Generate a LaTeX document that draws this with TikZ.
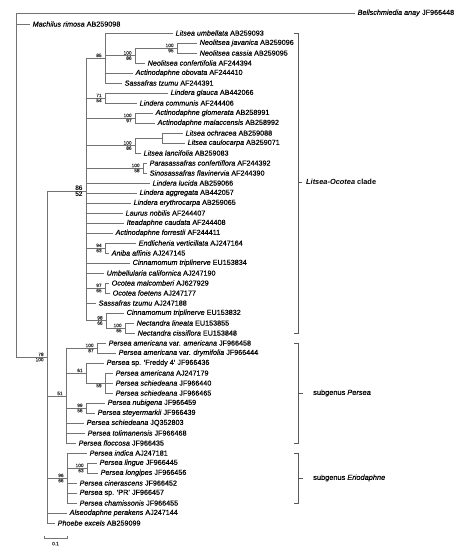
\documentclass[tikz,border=0pt]{standalone}
\usepackage{fontspec}
\setmainfont{Liberation Sans}[UprightFeatures={FakeBold=0.35}, ItalicFeatures={FakeBold=0.35}]
\usetikzlibrary{calc}
\newcommand{\tipnode}[5]{\node[tip] (#1) at (#2,#3) {#4}; \draw[br] (#5) |- (#1.west);}
\newcommand{\bsv}[3]{\node[bsl, anchor=south east] at ([xshift=-2.5pt]#1) {#2}; \node[bsl, anchor=north east] at ([xshift=-2.5pt]#1) {#3};}
\newcommand{\bst}[2]{\node[bsl, anchor=south east] at ([xshift=-2.5pt]#1) {#2};}
\newcommand{\bsd}[2]{\node[bsl, anchor=north east] at ([xshift=-2.5pt]#1) {#2};}
\begin{document}
\begin{tikzpicture}[x=1pt,y=-1pt,
  br/.style={draw=black!55, line width=0.6pt},
  bk/.style={draw=black!65, line width=0.6pt},
  tip/.style={anchor=west, inner xsep=2.5pt, inner ysep=0pt, font=\fontsize{7.2}{8}\selectfont},
  bsl/.style={font=\fontsize{4.8}{6}\selectfont, inner sep=0.7pt, text=black!80},
  bsb/.style={font=\bfseries\fontsize{6.6}{7}\selectfont, inner sep=0.7pt},
  clab/.style={anchor=west, inner sep=0pt, font=\fontsize{7.4}{9}\selectfont}]
\useasboundingbox (0,0) rectangle (474,557);
% root
\coordinate (root) at (16,190);
\coordinate (n78) at (47,357);
\tipnode{bel}{355}{13}{\textit{Bellschmiedia anay} JF966448}{root}
\tipnode{mac}{30}{24}{\textit{Machilus rimosa} AB259098}{root}
\draw[br] (root) |- (n78);
% Litsea-Ocotea clade
\coordinate (nLO) at (86,191);
\draw[br] (n78) |- (nLO);
\coordinate (nLit) at (105,58);
\draw[br] (nLO) |- (nLit);
\tipnode{lum}{173}{33}{\textit{Litsea umbellata} AB259093}{nLit}
\coordinate (nNeo) at (135,55.5);
\draw[br] (nLit) |- (nNeo);
\coordinate (nNJ) at (177,48);
\draw[br] (nNeo) |- (nNJ);
\tipnode{nja}{197}{43}{\textit{Neolitsea javanica} AB259096}{nNJ}
\tipnode{nca}{197}{53}{\textit{Neolitsea cassia} AB259095}{nNJ}
\tipnode{nco}{145}{63}{\textit{Neolitsea confertifolia} AF244394}{nNeo}
\tipnode{aob}{133}{73}{\textit{Actinodaphne obovata} AF244410}{nLit}
\tipnode{stz}{122}{83}{\textit{Sassafras tzumu} AF244391}{nLit}
\coordinate (nLin) at (105,98);
\draw[br] (nLO) |- (nLin);
\tipnode{lgl}{168}{93}{\textit{Lindera glauca} AB442066}{nLin}
\tipnode{lco}{137}{103}{\textit{Lindera communis} AF244406}{nLin}
\coordinate (nAct) at (135,118);
\draw[br] (nLO) |- (nAct);
\tipnode{agl}{153}{113}{\textit{Actinodaphne glomerata} AB258991}{nAct}
\tipnode{ama}{155}{123}{\textit{Actinodaphne malaccensis} AB258992}{nAct}
\coordinate (nLoc) at (135,145.5);
\draw[br] (nLO) |- (nLoc);
\coordinate (nLoc2) at (162,138);
\draw[br] (nLoc) |- (nLoc2);
\tipnode{loc}{183}{133}{\textit{Litsea ochracea} AB259088}{nLoc2}
\tipnode{lca}{185}{143}{\textit{Litsea caulocarpa} AB259071}{nLoc2}
\tipnode{lla}{141}{153}{\textit{Litsea lancifolia} AB259083}{nLoc}
\coordinate (nPara) at (143,168);
\draw[br] (nLO) |- (nPara);
\tipnode{pco}{147}{163}{\textit{Parasassafras confertiflora} AF244392}{nPara}
\tipnode{sfl}{147}{173}{\textit{Sinosassafras flavinervia} AF244390}{nPara}
\tipnode{llu}{150}{183}{\textit{Lindera lucida} AB259066}{nLO}
\tipnode{lag}{137}{193}{\textit{Lindera aggregata} AB442057}{nLO}
\tipnode{ler}{131}{203}{\textit{Lindera erythrocarpa} AB259065}{nLO}
\tipnode{lno}{123}{213}{\textit{Laurus nobilis} AF244407}{nLO}
\tipnode{ica}{124}{223}{\textit{Iteadaphne caudata} AF244408}{nLO}
\tipnode{afo}{113}{233}{\textit{Actinodaphne forrestii} AF244411}{nLO}
\coordinate (nEnd) at (105,248);
\draw[br] (nLO) |- (nEnd);
\tipnode{eve}{136}{243}{\textit{Endlicheria verticillata} AJ247164}{nEnd}
\tipnode{aaf}{109}{253}{\textit{Aniba affinis} AJ247145}{nEnd}
\tipnode{cta}{130}{263}{\textit{Cinnamomum triplinerve} EU153834}{nLO}
\tipnode{uca}{104}{273}{\textit{Umbellularia californica} AJ247190}{nLO}
\coordinate (nOco) at (105,288);
\draw[br] (nLO) |- (nOco);
\tipnode{oma}{109}{283}{\textit{Ocotea malcomberi} AJ627929}{nOco}
\tipnode{ofo}{110}{293}{\textit{Ocotea foetens} AJ247177}{nOco}
\tipnode{stj}{96}{303}{\textit{Sassafras tzumu} AJ247188}{nLO}
\coordinate (nCN) at (106,320.5);
\draw[br] (nLO) |- (nCN);
\tipnode{ctb}{124}{313}{\textit{Cinnamomum triplinerve} EU153832}{nCN}
\coordinate (nNec) at (125,328);
\draw[br] (nCN) |- (nNec);
\tipnode{nli}{134}{323}{\textit{Nectandra lineata} EU153855}{nNec}
\tipnode{nci}{135}{333}{\textit{Nectandra cissiflora} EU153848}{nNec}
% subgenus Persea
\coordinate (nPer) at (66,396);
\draw[br] (n78) |- (nPer);
\coordinate (nAm) at (97,348);
\draw[br] (nPer) |- (nAm);
\tipnode{pam}{106}{343}{\textit{Persea americana} var. \textit{americana} JF966458}{nAm}
\tipnode{pdr}{116}{353}{\textit{Persea americana} var. \textit{drymifolia} JF966444}{nAm}
\coordinate (n61) at (86,373);
\draw[br] (nPer) |- (n61);
\tipnode{pfr}{104}{363}{\textit{Persea} sp. ‘Freddy 4’ JF966436}{n61}
\coordinate (n59) at (105,383);
\draw[br] (n61) |- (n59);
\tipnode{paa}{113}{373}{\textit{Persea americana} AJ247179}{n59}
\tipnode{psa}{113}{383}{\textit{Persea schiedeana} JF966440}{n59}
\tipnode{psb}{113}{393}{\textit{Persea schiedeana} JF966465}{n59}
\coordinate (nNub) at (86,408);
\draw[br] (nPer) |- (nNub);
\tipnode{pnu}{105}{403}{\textit{Persea nubigena} JF966459}{nNub}
\tipnode{pst}{95}{413}{\textit{Persea steyermarkii} JF966439}{nNub}
\tipnode{psc}{84}{423}{\textit{Persea schiedeana} JQ352803}{nPer}
\tipnode{pto}{85}{433}{\textit{Persea tolimanensis} JF966468}{nPer}
\tipnode{pfl}{76}{443}{\textit{Persea floccosa} JF966435}{nPer}
% subgenus Eriodaphne
\coordinate (nErio) at (67,478);
\draw[br] (n78) |- (nErio);
\tipnode{pin}{87}{453}{\textit{Persea indica} AJ247181}{nErio}
\coordinate (nLL) at (87,468);
\draw[br] (nErio) |- (nLL);
\tipnode{pli}{97}{463}{\textit{Persea lingue} JF966445}{nLL}
\tipnode{plo}{98}{473}{\textit{Persea longipes} JF966456}{nLL}
\tipnode{pci}{77}{483}{\textit{Persea cinerascens} JF966452}{nErio}
\tipnode{ppr}{77}{493}{\textit{Persea} sp. ‘PR’ JF966457}{nErio}
\tipnode{pch}{77}{503}{\textit{Persea chamissonis} JF966455}{nErio}
\tipnode{ape}{67}{513}{\textit{Alseodaphne perakens} AJ247144}{n78}
\tipnode{pex}{55}{523}{\textit{Phoebe excels} AB259099}{n78}
% support values
\bsv{nNJ}{100}{95}
\bsv{nNeo}{100}{86}
\bst{nLit}{85}
\bsv{nLin}{71}{54}
\bsv{nAct}{100}{97}
\bsv{nLoc}{100}{86}
\bsv{nPara}{100}{58}
\node[bsb, anchor=south east] at ([xshift=-2.5pt]nLO) {86};
\node[bsb, anchor=north east] at ([xshift=-2.5pt]nLO) {52};
\bsv{nEnd}{94}{63}
\bsv{nOco}{97}{65}
\bsv{nCN}{98}{66}
\bsv{nNec}{100}{65}
\bsv{n78}{78}{100}
\bsv{nAm}{100}{87}
\bst{n61}{61}
\bsd{n59}{59}
\bsv{nNub}{99}{56}
\bst{nPer}{51}
\bsv{nLL}{100}{63}
\bsv{nErio}{96}{66}
% clade brackets
\draw[bk] (294,33) -- (298,33) -- (298,333) -- (294,333);
\node[clab] (cLO) at (306,182) {\bfseries\itshape Litsea-Ocotea \upshape clade};
\draw[bk] (298,182) -- (302,182);
\draw[bk] (294,343) -- (298,343) -- (298,443) -- (294,443);
\node[clab] (cPe) at (313,393) {subgenus \textit{Persea}};
\draw[bk] (298,393) -- (303,393);
\draw[bk] (294,453) -- (298,453) -- (298,503) -- (294,503);
\node[clab] (cEr) at (313,478) {subgenus \textit{Eriodaphne}};
\draw[bk] (298,478) -- (303,478);
% scale bar
\coordinate (sbl) at (44,538);
\coordinate (sbr) at (67,538);
\draw[br] ([yshift=2.5pt]sbl) -- (sbl) -- (sbr) -- ([yshift=2.5pt]sbr);
\node[bsl, anchor=north] (sbt) at ([yshift=-3pt]$(sbl)!0.5!(sbr)$) {0.1};
\end{tikzpicture}
\end{document}
